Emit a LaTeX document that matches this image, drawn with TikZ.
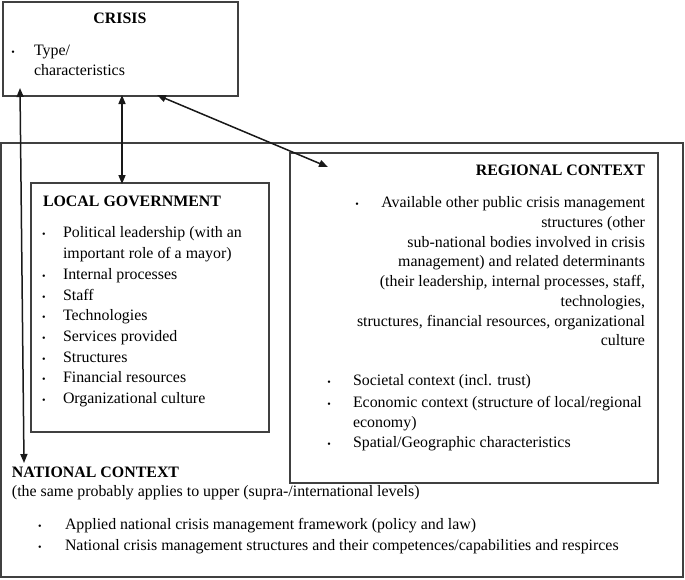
\documentclass[tikz,border=0pt]{standalone}
\usepackage{fontspec}
\setmainfont{Liberation Serif}
\usetikzlibrary{arrows.meta}
\begin{document}
\begin{tikzpicture}[x=1pt,y=-1pt,
 box/.style={draw=black!75,line width=1.5pt,inner sep=0pt,outer sep=0pt,anchor=north west},
 txt/.style={inner sep=0pt,outer sep=0pt,anchor=base west,font=\fontsize{15.9}{19}\selectfont},
 rtxt/.style={txt,anchor=base east},
 hd/.style={txt,font=\fontsize{15.9}{19}\selectfont\bfseries},
 bul/.style={inner sep=0pt,outer sep=0pt,anchor=base,font=\fontsize{10}{12}\selectfont},
 tip/.tip={Triangle[length=9pt,width=7pt]},
 arr/.style={line width=1.5pt,draw=black!90,tip-tip}]
\useasboundingbox (0,0) rectangle (685,579);
% boxes
\node[box,minimum width=235pt,minimum height=94pt] (crisis) at (3,2) {};
\node[box,minimum width=682pt,minimum height=434pt] (national) at (1,143) {};
\node[box,minimum width=238pt,minimum height=249pt] (local) at (31,183) {};
\node[box,minimum width=368pt,minimum height=330pt] (regional) at (290,153) {};
% crisis text
\node[hd,anchor=base] (crisisT) at (120,23) {CRISIS};
\node[bul] (cb1) at (13,55) {\textbullet};
\node[txt] (c1) at (34,55) {Type/};
\node[txt] (c2) at (34,75) {characteristics};
% local government
\node[hd] (localT) at (43,206) {LOCAL GOVERNMENT};
\foreach \y/\t [count=\i] in {237/{Political leadership (with an},258/{important role of a mayor)},279/{Internal processes},300/{Staff},320/{Technologies},341/{Services provided},362/{Structures},382/{Financial resources},403/{Organizational culture}}{
  \node[txt] (l\i) at (63,\y) {\t};
}
\foreach \y [count=\i] in {237,279,300,320,341,362,382,403}{
  \node[bul] (lb\i) at (44,\y) {\textbullet};
}
% regional context
\node[hd,anchor=base east] (regT) at (645,175) {REGIONAL CONTEXT};
\node[bul] (rb1) at (357,207) {\textbullet};
\foreach \y/\t [count=\i] in {207/{Available other public crisis management},227/{structures (other},247/{sub-national bodies involved in crisis},266/{management) and related determinants},286/{(their leadership, internal processes, staff,},306/{technologies,},326/{structures, financial resources, organizational},345/{culture}}{
  \node[rtxt] (r\i) at (645,\y) {\t};
}
\node[bul] (rb2) at (329,385) {\textbullet};
\node[txt] (s1) at (353,385) {Societal context (incl. trust)};
\node[bul] (rb3) at (329,407) {\textbullet};
\node[txt] (s2) at (353,407) {Economic context (structure of local/regional};
\node[txt] (s3) at (353,427) {economy)};
\node[bul] (rb4) at (329,447) {\textbullet};
\node[txt] (s4) at (353,447) {Spatial/Geographic characteristics};
% national context
\node[hd] (natT) at (12,477) {NATIONAL CONTEXT};
\node[txt] (nat0) at (12,496) {(the same probably applies to upper (supra-/international levels)};
\node[bul] (nb1) at (40,529) {\textbullet};
\node[txt] (n1) at (65,529) {Applied national crisis management framework (policy and law)};
\node[bul] (nb2) at (40,550) {\textbullet};
\node[txt] (n2) at (65,550) {National crisis management structures and their competences/capabilities and respirces};
% connectors
\coordinate (la1) at (20,88);
\coordinate (la2) at (24,463);
\coordinate (m1) at (122,95);
\coordinate (m2) at (122,184);
\coordinate (d1) at (157,95);
\coordinate (d2) at (328,167);
\draw[arr] (la1) -- (la2);
\draw[arr] (m1) -- (m2);
\draw[arr] (d1) -- (d2);
\end{tikzpicture}
\end{document}
